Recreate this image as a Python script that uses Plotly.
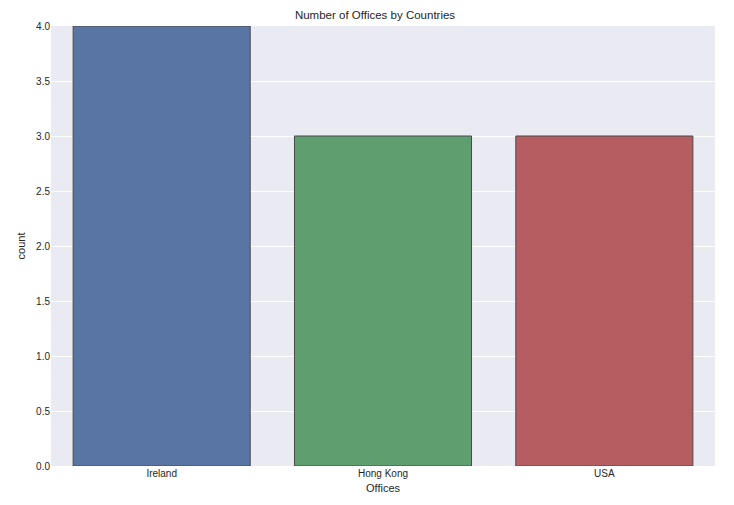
import plotly.graph_objects as go

offices = ['Ireland', 'Hong Kong', 'USA']
counts = [4, 3, 3]
colors = ['#5975a4', '#5f9e6e', '#b55d60']
y_ticks = [0.0, 0.5, 1.0, 1.5, 2.0, 2.5, 3.0, 3.5, 4.0]

fig = go.Figure(go.Bar(
    x=offices, y=counts,
    marker=dict(color=colors, line=dict(color='#4a4a4a', width=1)),
    width=0.8,
))

# page has an 8px body margin, so shift the plot area up/left
fig.update_layout(
    width=734, height=505,
    margin=dict(l=37, r=27, t=12, b=47),
    plot_bgcolor='#eaeaf2', paper_bgcolor='white',
    font=dict(family='Liberation Sans, Arial', size=10, color='#262626'),
    title=dict(text='Number of Offices by Countries', x=0.5, xanchor='center',
               y=0.995, yanchor='top', font=dict(size=11.5)),
    showlegend=False,
    bargap=0.2,
)
fig.update_xaxes(title=dict(text='Offices', font=dict(size=11), standoff=6),
                 showgrid=False, range=[-0.5, 2.5], ticks='', ticklen=0)
fig.update_yaxes(title=dict(text='count', font=dict(size=11), standoff=8),
                 range=[0, 4], tickvals=y_ticks,
                 ticktext=[f'{v:.1f}' for v in y_ticks],
                 gridcolor='white', gridwidth=1, zeroline=False)

fig.write_html("out.html")
